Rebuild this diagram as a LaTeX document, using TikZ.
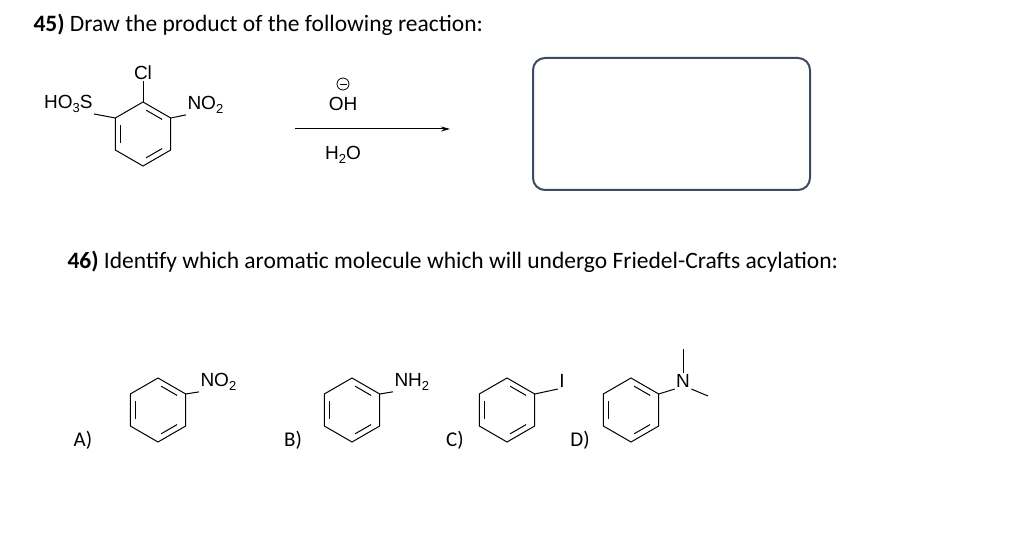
\documentclass[tikz,border=0pt]{standalone}
\usetikzlibrary{calc,arrows.meta}
\usepackage{fontspec}
\setmainfont{Carlito}
\newfontfamily\chemf{Liberation Sans}
\newcommand\chsub[1]{\raisebox{-0.35ex}{\fontsize{13}{14}\selectfont #1}}
\definecolor{boxc}{RGB}{60,75,95}
\begin{document}
\begin{tikzpicture}[x=1pt,y=-1pt,line width=1pt,
  hd/.style={anchor=west,font=\fontsize{23.5}{26}\selectfont,inner sep=0},
  ch/.style={font=\chemf\fontsize{19}{21}\selectfont,inner sep=1pt},
  lab/.style={font=\fontsize{21}{24}\selectfont,inner sep=0}]
\useasboundingbox (0,0) rectangle (1010,534);
\newcommand\benz[3]{% name, x, y
  \coordinate (#1c) at (#2,#3);
  \foreach \a/\k in {90/1,30/2,-30/3,-90/4,-150/5,150/6}{\coordinate (#1\k) at ($(#1c)+(\a:32 and -32)$);}
  \draw (#11)--(#12)--(#13)--(#14)--(#15)--(#16)--cycle;
  \foreach \p/\q in {1/2,3/4,5/6}{
    \draw ($($(#1c)!0.8!(#1\p)$)!0.14!($(#1c)!0.8!(#1\q)$)$) -- ($($(#1c)!0.8!(#1\q)$)!0.14!($(#1c)!0.8!(#1\p)$)$);}
}
\node[hd] (h1) at (33,25) {\textbf{45)} Draw the product of the following reaction:};
\node[hd] (h2) at (67,262) {\textbf{46)} Identify which aromatic molecule which will undergo Friedel-Crafts acylation:};
% top molecule
\benz{t}{143}{134}
\node[ch,anchor=east] (so3h) at (94,104) {HO\chsub{3}S};
\node[ch] (cl) at (143,73) {Cl};
\node[ch,anchor=west] (no2t) at (186,105) {NO\chsub{2}};
\draw (t6) -- (so3h.south east);
\draw (t1) -- (cl.south);
\draw (t2) -- (no2t.south west);
% reagents
\coordinate (a1) at (295,129); \coordinate (a2) at (450,129);
\draw[-{Stealth[length=9pt,width=5pt]}] (a1) -- (a2);
\node[ch] (oh) at (343,104) {OH};
\node[circle,draw,line width=0.8pt,minimum size=12pt,inner sep=0] (neg) at (343,84) {};
\draw[line width=0.8pt] ($(neg)+(-3.5,0)$) -- ($(neg)+(3.5,0)$);
\node[ch] (h2o) at (343,155) {H\chsub{2}O};
\node[draw=boxc,line width=2pt,rounded corners=12pt,minimum width=277pt,minimum height=132pt] (box) at (671.5,124) {};
% bottom
\benz{A}{158}{410}
\node[ch,anchor=west] (nA) at (199,382) {NO\chsub{2}};
\draw (A2) -- (nA.south west);
\benz{B}{352}{410}
\node[ch,anchor=west] (nB) at (393,382) {NH\chsub{2}};
\draw (B2) -- (nB.south west);
\benz{C}{507}{410}
\node[ch] (iC) at (562,381) {I};
\draw (C2) -- (iC.south west);
\benz{D}{631}{410}
\node[ch] (nD) at (683,381) {N};
\draw (D2) -- (nD.south west);
\coordinate (m1) at (683,349); \coordinate (m2) at (708,396);
\draw (nD.north) -- (m1);
\draw (nD.south east) -- (m2);
\node[lab] (la) at (83,440) {A)};
\node[lab] (lb) at (293,440) {B)};
\node[lab] (lc) at (455,440) {C)};
\node[lab] (ld) at (580,440) {D)};
\end{tikzpicture}
\end{document}
